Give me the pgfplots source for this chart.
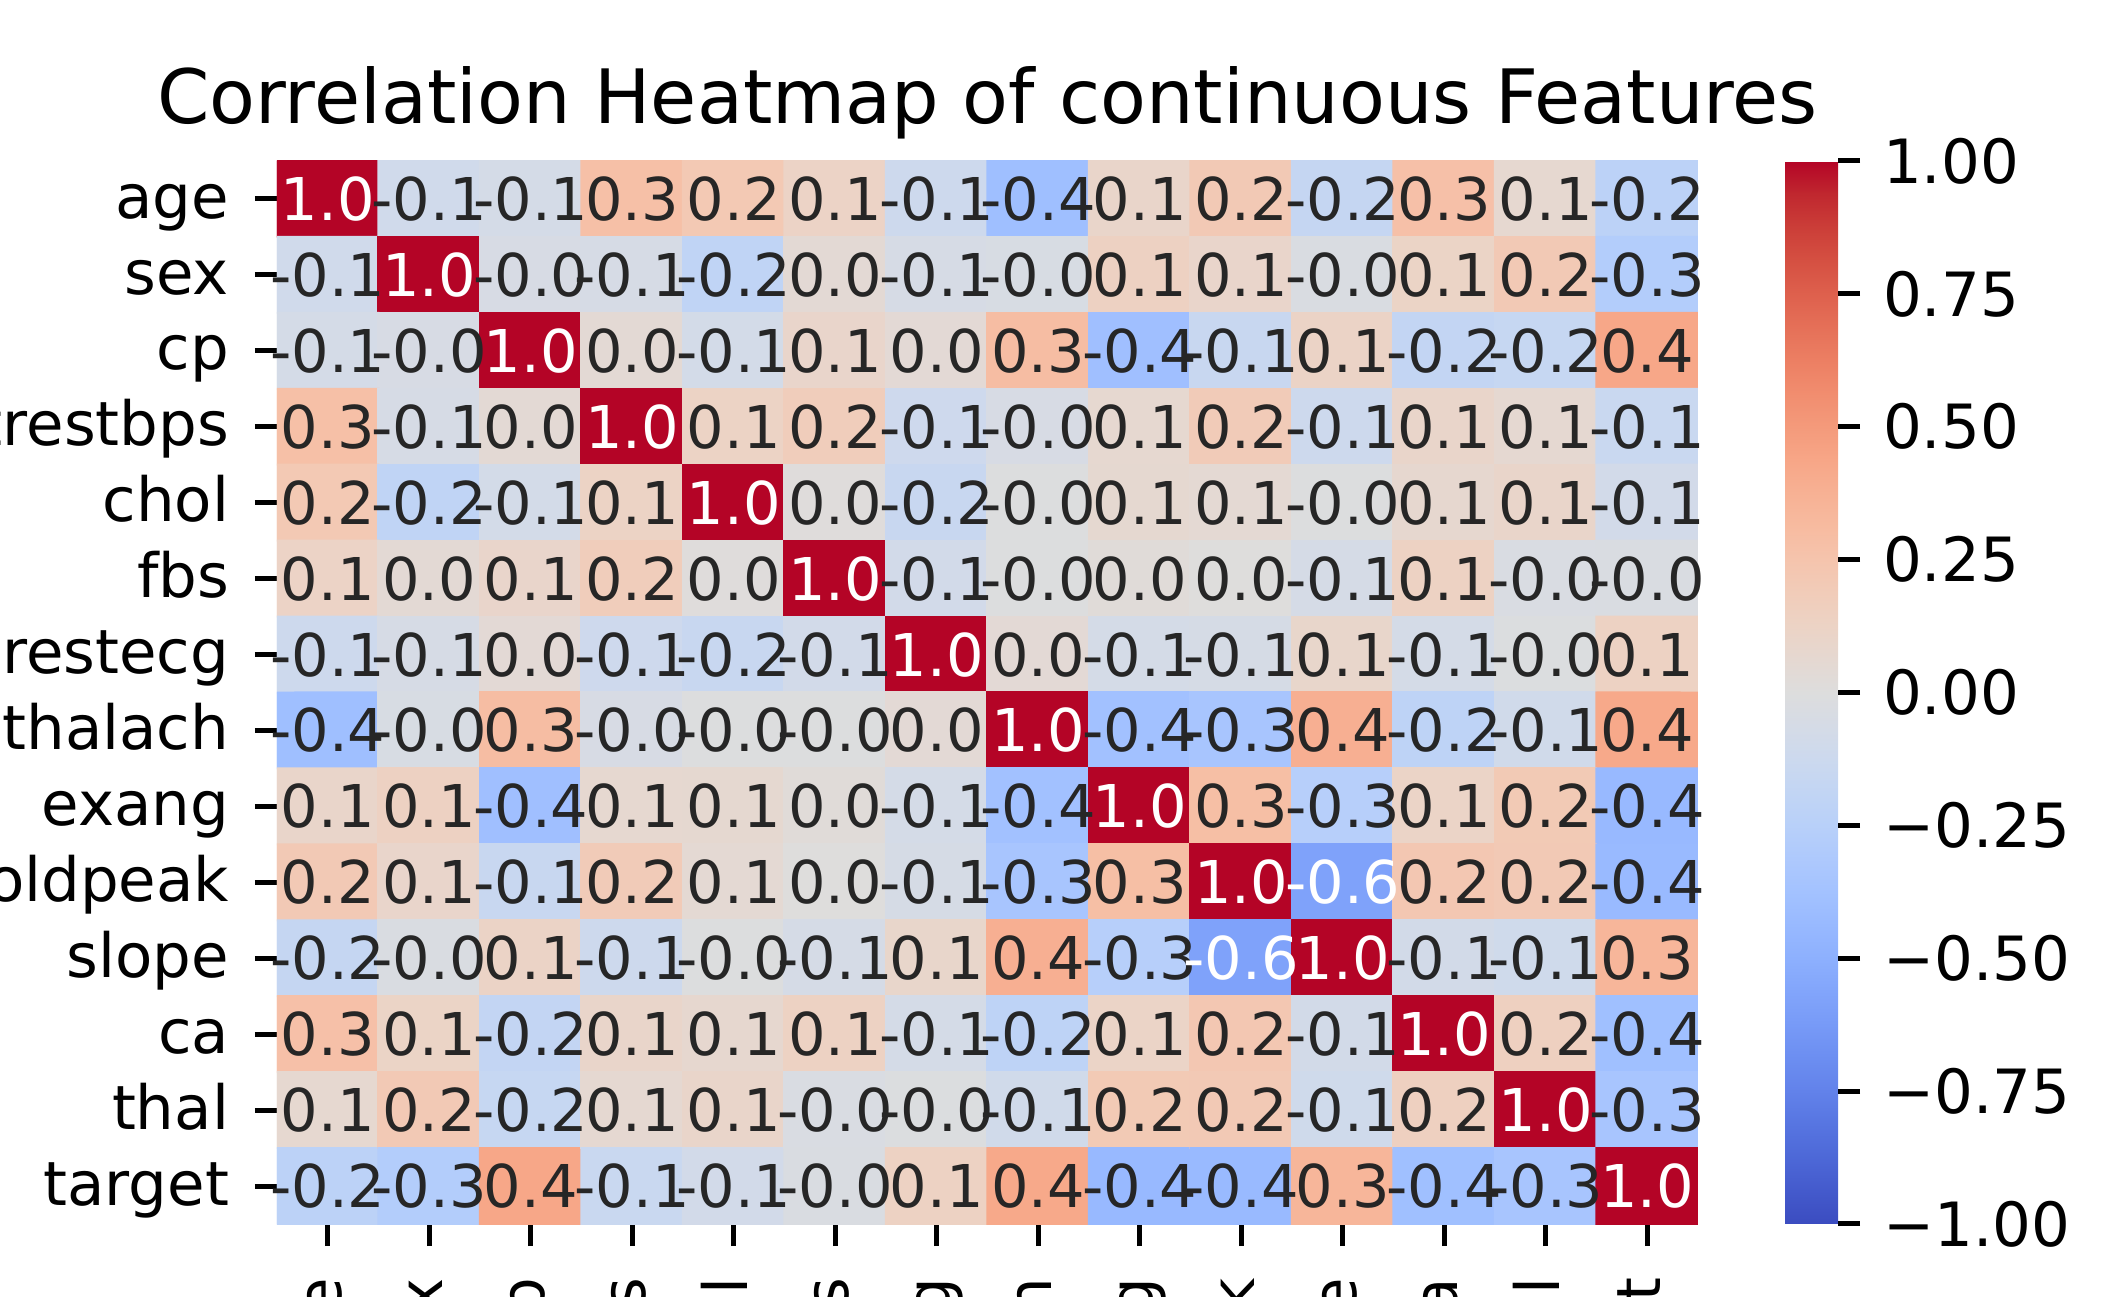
\documentclass[border=0pt]{standalone}
\usepackage{pgfplots}
\pgfplotsset{compat=1.18}
\usepackage{pgfplotstable}
\usepackage{fontspec}
\setmainfont{DejaVu Sans}
\definecolor{annot}{HTML}{262626}
\newcommand\W[1]{\textcolor{white}{#1}}
\pgfplotsset{colormap={coolwarm}{
rgb255=(59,76,192) rgb255=(68,90,204) rgb255=(77,104,215) rgb255=(87,117,225)
rgb255=(98,130,234) rgb255=(108,142,241) rgb255=(119,154,247) rgb255=(130,165,251)
rgb255=(141,176,254) rgb255=(152,185,255) rgb255=(163,194,255) rgb255=(174,201,253)
rgb255=(184,208,249) rgb255=(194,213,244) rgb255=(204,217,238) rgb255=(213,219,230)
rgb255=(221,221,221) rgb255=(229,216,209) rgb255=(236,211,197) rgb255=(241,204,185)
rgb255=(245,196,173) rgb255=(247,187,160) rgb255=(247,177,148) rgb255=(247,166,135)
rgb255=(244,154,123) rgb255=(241,141,111) rgb255=(236,127,99) rgb255=(229,112,88)
rgb255=(222,96,77) rgb255=(213,80,66) rgb255=(203,62,56) rgb255=(192,40,47)
rgb255=(180,4,38)}}
\pgfplotstableread{
x y c lab
0 0 1.000 \W{1.0}
1 0 -0.098 -0.1
2 0 -0.069 -0.1
3 0 0.279 0.3
4 0 0.214 0.2
5 0 0.121 0.1
6 0 -0.116 -0.1
7 0 -0.399 -0.4
8 0 0.097 0.1
9 0 0.210 0.2
10 0 -0.169 -0.2
11 0 0.276 0.3
12 0 0.068 0.1
13 0 -0.225 -0.2
0 1 -0.098 -0.1
1 1 1.000 \W{1.0}
2 1 -0.049 -0.0
3 1 -0.057 -0.1
4 1 -0.198 -0.2
5 1 0.045 0.0
6 1 -0.058 -0.1
7 1 -0.044 -0.0
8 1 0.142 0.1
9 1 0.096 0.1
10 1 -0.031 -0.0
11 1 0.118 0.1
12 1 0.210 0.2
13 1 -0.281 -0.3
0 2 -0.069 -0.1
1 2 -0.049 -0.0
2 2 1.000 \W{1.0}
3 2 0.048 0.0
4 2 -0.077 -0.1
5 2 0.094 0.1
6 2 0.044 0.0
7 2 0.296 0.3
8 2 -0.394 -0.4
9 2 -0.149 -0.1
10 2 0.120 0.1
11 2 -0.181 -0.2
12 2 -0.162 -0.2
13 2 0.434 0.4
0 3 0.279 0.3
1 3 -0.057 -0.1
2 3 0.048 0.0
3 3 1.000 \W{1.0}
4 3 0.123 0.1
5 3 0.178 0.2
6 3 -0.114 -0.1
7 3 -0.047 -0.0
8 3 0.068 0.1
9 3 0.193 0.2
10 3 -0.121 -0.1
11 3 0.101 0.1
12 3 0.062 0.1
13 3 -0.145 -0.1
0 4 0.214 0.2
1 4 -0.198 -0.2
2 4 -0.077 -0.1
3 4 0.123 0.1
4 4 1.000 \W{1.0}
5 4 0.013 0.0
6 4 -0.151 -0.2
7 4 -0.010 -0.0
8 4 0.067 0.1
9 4 0.054 0.1
10 4 -0.004 -0.0
11 4 0.071 0.1
12 4 0.099 0.1
13 4 -0.085 -0.1
0 5 0.121 0.1
1 5 0.045 0.0
2 5 0.094 0.1
3 5 0.178 0.2
4 5 0.013 0.0
5 5 1.000 \W{1.0}
6 5 -0.084 -0.1
7 5 -0.009 -0.0
8 5 0.026 0.0
9 5 0.006 0.0
10 5 -0.060 -0.1
11 5 0.138 0.1
12 5 -0.032 -0.0
13 5 -0.028 -0.0
0 6 -0.116 -0.1
1 6 -0.058 -0.1
2 6 0.044 0.0
3 6 -0.114 -0.1
4 6 -0.151 -0.2
5 6 -0.084 -0.1
6 6 1.000 \W{1.0}
7 6 0.044 0.0
8 6 -0.071 -0.1
9 6 -0.059 -0.1
10 6 0.093 0.1
11 6 -0.072 -0.1
12 6 -0.012 -0.0
13 6 0.137 0.1
0 7 -0.399 -0.4
1 7 -0.044 -0.0
2 7 0.296 0.3
3 7 -0.047 -0.0
4 7 -0.010 -0.0
5 7 -0.009 -0.0
6 7 0.044 0.0
7 7 1.000 \W{1.0}
8 7 -0.379 -0.4
9 7 -0.344 -0.3
10 7 0.387 0.4
11 7 -0.213 -0.2
12 7 -0.096 -0.1
13 7 0.422 0.4
0 8 0.097 0.1
1 8 0.142 0.1
2 8 -0.394 -0.4
3 8 0.068 0.1
4 8 0.067 0.1
5 8 0.026 0.0
6 8 -0.071 -0.1
7 8 -0.379 -0.4
8 8 1.000 \W{1.0}
9 8 0.288 0.3
10 8 -0.258 -0.3
11 8 0.116 0.1
12 8 0.207 0.2
13 8 -0.437 -0.4
0 9 0.210 0.2
1 9 0.096 0.1
2 9 -0.149 -0.1
3 9 0.193 0.2
4 9 0.054 0.1
5 9 0.006 0.0
6 9 -0.059 -0.1
7 9 -0.344 -0.3
8 9 0.288 0.3
9 9 1.000 \W{1.0}
10 9 -0.578 \W{-0.6}
11 9 0.223 0.2
12 9 0.210 0.2
13 9 -0.431 -0.4
0 10 -0.169 -0.2
1 10 -0.031 -0.0
2 10 0.120 0.1
3 10 -0.121 -0.1
4 10 -0.004 -0.0
5 10 -0.060 -0.1
6 10 0.093 0.1
7 10 0.387 0.4
8 10 -0.258 -0.3
9 10 -0.578 \W{-0.6}
10 10 1.000 \W{1.0}
11 10 -0.080 -0.1
12 10 -0.105 -0.1
13 10 0.346 0.3
0 11 0.276 0.3
1 11 0.118 0.1
2 11 -0.181 -0.2
3 11 0.101 0.1
4 11 0.071 0.1
5 11 0.138 0.1
6 11 -0.072 -0.1
7 11 -0.213 -0.2
8 11 0.116 0.1
9 11 0.223 0.2
10 11 -0.080 -0.1
11 11 1.000 \W{1.0}
12 11 0.152 0.2
13 11 -0.392 -0.4
0 12 0.068 0.1
1 12 0.210 0.2
2 12 -0.162 -0.2
3 12 0.062 0.1
4 12 0.099 0.1
5 12 -0.032 -0.0
6 12 -0.012 -0.0
7 12 -0.096 -0.1
8 12 0.207 0.2
9 12 0.210 0.2
10 12 -0.105 -0.1
11 12 0.152 0.2
12 12 1.000 \W{1.0}
13 12 -0.344 -0.3
0 13 -0.225 -0.2
1 13 -0.281 -0.3
2 13 0.434 0.4
3 13 -0.145 -0.1
4 13 -0.085 -0.1
5 13 -0.028 -0.0
6 13 0.137 0.1
7 13 0.422 0.4
8 13 -0.437 -0.4
9 13 -0.431 -0.4
10 13 0.346 0.3
11 13 -0.392 -0.4
12 13 -0.344 -0.3
13 13 1.000 \W{1.0}
}\corr
\begin{document}
\begin{tikzpicture}
\path[use as bounding box] (0,0) rectangle (424.2pt,259.4pt);
\clip (0,0) rectangle (424.2pt,259.4pt);
\begin{axis}[
  at={(55.4pt,14.6pt)}, anchor=south west,
  width=284.2pt, height=212.6pt, scale only axis,
  xmin=-0.5, xmax=13.5, ymin=-0.5, ymax=13.5, y dir=reverse,
  enlargelimits=false,
  axis line style={draw=none},
  xtick={0,...,13}, ytick={0,...,13},
  xticklabels={age,sex,cp,trestbps,chol,fbs,restecg,thalach,exang,oldpeak,slope,ca,thal,target},
  yticklabels={age,sex,cp,trestbps,chol,fbs,restecg,thalach,exang,oldpeak,slope,ca,thal,target},
  tick align=outside, xtick pos=bottom, ytick pos=left,
  major tick length=4.4pt,
  tick style={black, line width=1pt},
  ticklabel style={font=\fontsize{12.2}{14}\selectfont, text=black},
  yticklabel style={anchor=mid east, inner sep=0pt, xshift=-5.0pt, yshift=-1.1pt},
  xticklabel style={yshift=-6.2pt, rotate=90, anchor=mid east, inner sep=0pt},
  colormap name=coolwarm, point meta min=-1, point meta max=1,
  colorbar,
  colorbar style={
    at={(parent axis.north east)}, anchor=north west, xshift=8.9pt,
    width=10.6pt, height=212.6pt, scale only axis,
    axis line style={draw=none},
    ytick={-1,-0.75,-0.5,-0.25,0,0.25,0.5,0.75,1},
    yticklabels={−1.00,−0.75,−0.50,−0.25,0.00,0.25,0.50,0.75,1.00},
    ytick pos=right, yticklabel pos=right, tick align=outside,
    major tick length=4.4pt,
    tick style={black, line width=1pt},
    yticklabel style={anchor=west, inner sep=0pt, xshift=4.4pt, font=\fontsize{12.2}{14}\selectfont},
  },
]
\addplot[matrix plot*, mesh/cols=14, point meta=explicit] table[x=x, y=y, meta=c]{\corr};
\addplot[draw=none, mark=none, nodes near coords, point meta=explicit symbolic,
  every node near coord/.append style={anchor=center, inner sep=0pt, text=annot, font=\fontsize{11.8}{14}\selectfont}]
  table[x=x, y=y, meta=lab]{\corr};
\end{axis}
\node[anchor=base, font=\fontsize{15}{18}\selectfont] at (197.5pt,234.6pt) {Correlation Heatmap of continuous Features};
\end{tikzpicture}
\end{document}
